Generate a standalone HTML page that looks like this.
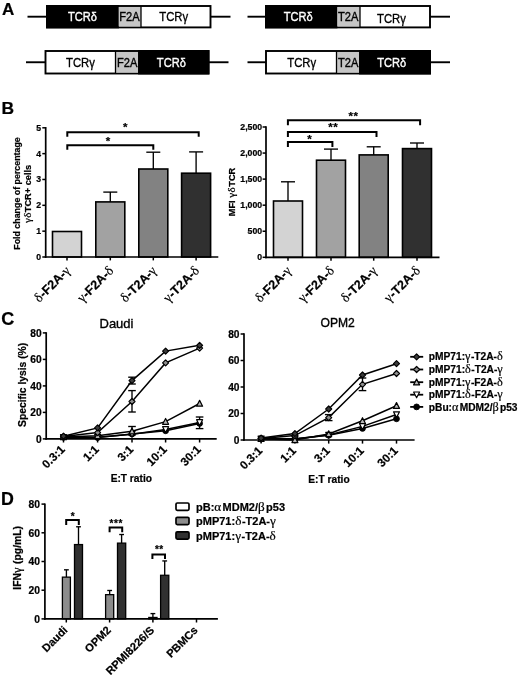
<!DOCTYPE html>
<html lang="en"><head><meta charset="utf-8"><title>Figure</title>
<style>
html,body{margin:0;padding:0;background:#fff;}
svg{display:block;}
text{font-family:"Liberation Sans", sans-serif;}
text[font-weight=bold]{stroke:#000;stroke-width:.22px;}
text[font-weight=bold] tspan{stroke:#000;stroke-width:.2px;}
.gk{font-family:"Liberation Serif", serif;font-weight:normal;font-size:1.2em;letter-spacing:.04em;}
.xl .gk{font-size:1.08em;letter-spacing:.03em;}
.gw{font-family:"Liberation Serif", serif;font-weight:normal;font-size:1.2em;letter-spacing:.1em;}
</style></head>
<body>
<svg width="520" height="675" viewBox="0 0 520 675">
<rect x="0" y="0" width="520" height="675" fill="#fff"/>
<text x="2.00" y="14.90" font-size="17.0" text-anchor="start" font-weight="bold" fill="#000">A</text>
<text x="1.40" y="114.10" font-size="17.4" text-anchor="start" font-weight="bold" fill="#000">B</text>
<text x="1.30" y="324.80" font-size="18.0" text-anchor="start" font-weight="bold" fill="#000">C</text>
<text x="1.10" y="505.00" font-size="17.8" text-anchor="start" font-weight="bold" fill="#000">D</text>
<line x1="27.50" y1="16.70" x2="47.00" y2="16.70" stroke="#000" stroke-width="1.9" stroke-linecap="butt"/>
<line x1="210.50" y1="16.70" x2="230.50" y2="16.70" stroke="#000" stroke-width="1.9" stroke-linecap="butt"/>
<rect x="47.00" y="6.00" width="163.50" height="21.40" fill="#fff" stroke="#000" stroke-width="1.9"/>
<rect x="47.00" y="6.00" width="71.00" height="21.40" fill="#000" stroke="#000" stroke-width="1.9"/>
<text x="82.50" y="21.30" font-size="12" text-anchor="middle" font-weight="normal" fill="#fff" textLength="29" lengthAdjust="spacingAndGlyphs" stroke="#fff" stroke-width=".35">TCRδ</text>
<rect x="118.00" y="7.00" width="23.00" height="19.40" fill="#c6c6c6" stroke="none" stroke-width="0"/>
<line x1="118.00" y1="6.00" x2="118.00" y2="27.40" stroke="#000" stroke-width="1.3" stroke-linecap="butt"/>
<line x1="141.00" y1="6.00" x2="141.00" y2="27.40" stroke="#000" stroke-width="1.3" stroke-linecap="butt"/>
<text x="129.50" y="21.30" font-size="12" text-anchor="middle" font-weight="normal" fill="#000" textLength="20.4" lengthAdjust="spacingAndGlyphs" stroke="#000" stroke-width=".35">F2A</text>
<text x="173.75" y="20.50" font-size="12" text-anchor="middle" font-weight="normal" fill="#000" textLength="29" lengthAdjust="spacingAndGlyphs" stroke="#000" stroke-width=".3">TCRγ</text>
<line x1="26.00" y1="62.25" x2="45.50" y2="62.25" stroke="#000" stroke-width="1.9" stroke-linecap="butt"/>
<line x1="208.50" y1="62.25" x2="228.50" y2="62.25" stroke="#000" stroke-width="1.9" stroke-linecap="butt"/>
<rect x="45.50" y="51.00" width="163.00" height="22.50" fill="#fff" stroke="#000" stroke-width="1.9"/>
<text x="80.50" y="66.85" font-size="12" text-anchor="middle" font-weight="normal" fill="#000" textLength="29" lengthAdjust="spacingAndGlyphs" stroke="#000" stroke-width=".3">TCRγ</text>
<rect x="115.50" y="52.00" width="23.50" height="20.50" fill="#c6c6c6" stroke="none" stroke-width="0"/>
<line x1="115.50" y1="51.00" x2="115.50" y2="73.50" stroke="#000" stroke-width="1.3" stroke-linecap="butt"/>
<line x1="139.00" y1="51.00" x2="139.00" y2="73.50" stroke="#000" stroke-width="1.3" stroke-linecap="butt"/>
<text x="127.25" y="66.85" font-size="12" text-anchor="middle" font-weight="normal" fill="#000" textLength="20.4" lengthAdjust="spacingAndGlyphs" stroke="#000" stroke-width=".35">F2A</text>
<rect x="139.00" y="51.00" width="69.50" height="22.50" fill="#000" stroke="#000" stroke-width="1.9"/>
<text x="171.35" y="66.85" font-size="12" text-anchor="middle" font-weight="normal" fill="#fff" textLength="29" lengthAdjust="spacingAndGlyphs" stroke="#fff" stroke-width=".35">TCRδ</text>
<line x1="247.50" y1="16.70" x2="266.00" y2="16.70" stroke="#000" stroke-width="1.9" stroke-linecap="butt"/>
<line x1="430.00" y1="16.70" x2="450.00" y2="16.70" stroke="#000" stroke-width="1.9" stroke-linecap="butt"/>
<rect x="266.00" y="6.00" width="164.00" height="21.40" fill="#fff" stroke="#000" stroke-width="1.9"/>
<rect x="266.00" y="6.00" width="70.50" height="21.40" fill="#000" stroke="#000" stroke-width="1.9"/>
<text x="298.25" y="21.30" font-size="12" text-anchor="middle" font-weight="normal" fill="#fff" textLength="29" lengthAdjust="spacingAndGlyphs" stroke="#fff" stroke-width=".35">TCRδ</text>
<rect x="336.50" y="7.00" width="23.50" height="19.40" fill="#c6c6c6" stroke="none" stroke-width="0"/>
<line x1="336.50" y1="6.00" x2="336.50" y2="27.40" stroke="#000" stroke-width="1.3" stroke-linecap="butt"/>
<line x1="360.00" y1="6.00" x2="360.00" y2="27.40" stroke="#000" stroke-width="1.3" stroke-linecap="butt"/>
<text x="348.25" y="21.30" font-size="12" text-anchor="middle" font-weight="normal" fill="#000" textLength="20.4" lengthAdjust="spacingAndGlyphs" stroke="#000" stroke-width=".35">T2A</text>
<text x="391.50" y="22.90" font-size="12" text-anchor="middle" font-weight="normal" fill="#000" textLength="29" lengthAdjust="spacingAndGlyphs" stroke="#000" stroke-width=".3">TCRγ</text>
<line x1="247.50" y1="62.25" x2="266.00" y2="62.25" stroke="#000" stroke-width="1.9" stroke-linecap="butt"/>
<line x1="430.00" y1="62.25" x2="450.00" y2="62.25" stroke="#000" stroke-width="1.9" stroke-linecap="butt"/>
<rect x="266.00" y="51.00" width="164.00" height="22.50" fill="#fff" stroke="#000" stroke-width="1.9"/>
<text x="301.75" y="66.85" font-size="12" text-anchor="middle" font-weight="normal" fill="#000" textLength="29" lengthAdjust="spacingAndGlyphs" stroke="#000" stroke-width=".3">TCRγ</text>
<rect x="336.50" y="52.00" width="23.50" height="20.50" fill="#c6c6c6" stroke="none" stroke-width="0"/>
<line x1="336.50" y1="51.00" x2="336.50" y2="73.50" stroke="#000" stroke-width="1.3" stroke-linecap="butt"/>
<line x1="360.00" y1="51.00" x2="360.00" y2="73.50" stroke="#000" stroke-width="1.3" stroke-linecap="butt"/>
<text x="348.25" y="66.85" font-size="12" text-anchor="middle" font-weight="normal" fill="#000" textLength="20.4" lengthAdjust="spacingAndGlyphs" stroke="#000" stroke-width=".35">T2A</text>
<rect x="360.00" y="51.00" width="70.00" height="22.50" fill="#000" stroke="#000" stroke-width="1.9"/>
<text x="391.80" y="66.85" font-size="12" text-anchor="middle" font-weight="normal" fill="#fff" textLength="29" lengthAdjust="spacingAndGlyphs" stroke="#fff" stroke-width=".35">TCRδ</text>
<line x1="42.30" y1="257.00" x2="45.70" y2="257.00" stroke="#000" stroke-width="1.5" stroke-linecap="butt"/>
<text x="41.10" y="260.00" font-size="8.7" text-anchor="end" font-weight="bold" fill="#000">0</text>
<line x1="42.30" y1="231.16" x2="45.70" y2="231.16" stroke="#000" stroke-width="1.5" stroke-linecap="butt"/>
<text x="41.10" y="234.16" font-size="8.7" text-anchor="end" font-weight="bold" fill="#000">1</text>
<line x1="42.30" y1="205.32" x2="45.70" y2="205.32" stroke="#000" stroke-width="1.5" stroke-linecap="butt"/>
<text x="41.10" y="208.32" font-size="8.7" text-anchor="end" font-weight="bold" fill="#000">2</text>
<line x1="42.30" y1="179.48" x2="45.70" y2="179.48" stroke="#000" stroke-width="1.5" stroke-linecap="butt"/>
<text x="41.10" y="182.48" font-size="8.7" text-anchor="end" font-weight="bold" fill="#000">3</text>
<line x1="42.30" y1="153.64" x2="45.70" y2="153.64" stroke="#000" stroke-width="1.5" stroke-linecap="butt"/>
<text x="41.10" y="156.64" font-size="8.7" text-anchor="end" font-weight="bold" fill="#000">4</text>
<line x1="42.30" y1="127.80" x2="45.70" y2="127.80" stroke="#000" stroke-width="1.5" stroke-linecap="butt"/>
<text x="41.10" y="130.80" font-size="8.7" text-anchor="end" font-weight="bold" fill="#000">5</text>
<rect x="52.50" y="231.50" width="29.00" height="25.50" fill="#d3d3d3" stroke="#000" stroke-width="1.6"/>
<line x1="67.00" y1="257.00" x2="67.00" y2="260.40" stroke="#000" stroke-width="1.5" stroke-linecap="butt"/>
<line x1="110.30" y1="201.90" x2="110.30" y2="192.10" stroke="#000" stroke-width="1.35" stroke-linecap="butt"/>
<line x1="103.30" y1="192.10" x2="117.30" y2="192.10" stroke="#000" stroke-width="1.35" stroke-linecap="butt"/>
<rect x="95.80" y="201.90" width="29.00" height="55.10" fill="#a2a2a2" stroke="#000" stroke-width="1.6"/>
<line x1="110.30" y1="257.00" x2="110.30" y2="260.40" stroke="#000" stroke-width="1.5" stroke-linecap="butt"/>
<line x1="153.30" y1="169.00" x2="153.30" y2="152.20" stroke="#000" stroke-width="1.35" stroke-linecap="butt"/>
<line x1="146.30" y1="152.20" x2="160.30" y2="152.20" stroke="#000" stroke-width="1.35" stroke-linecap="butt"/>
<rect x="138.80" y="169.00" width="29.00" height="88.00" fill="#828282" stroke="#000" stroke-width="1.6"/>
<line x1="153.30" y1="257.00" x2="153.30" y2="260.40" stroke="#000" stroke-width="1.5" stroke-linecap="butt"/>
<line x1="196.10" y1="173.20" x2="196.10" y2="151.90" stroke="#000" stroke-width="1.35" stroke-linecap="butt"/>
<line x1="189.10" y1="151.90" x2="203.10" y2="151.90" stroke="#000" stroke-width="1.35" stroke-linecap="butt"/>
<rect x="181.60" y="173.20" width="29.00" height="83.80" fill="#303030" stroke="#000" stroke-width="1.6"/>
<line x1="196.10" y1="257.00" x2="196.10" y2="260.40" stroke="#000" stroke-width="1.5" stroke-linecap="butt"/>
<line x1="45.70" y1="127.05" x2="45.70" y2="257.85" stroke="#000" stroke-width="1.7" stroke-linecap="butt"/>
<line x1="44.85" y1="257.00" x2="218.30" y2="257.00" stroke="#000" stroke-width="1.7" stroke-linecap="butt"/>
<path d="M67.30 136.80 V132.20 H198.70 V136.80" fill="none" stroke="#000" stroke-width="2.0"/>
<path d="M67.30 149.70 V145.30 H153.30 V149.70" fill="none" stroke="#000" stroke-width="2.0"/>
<text x="125.60" y="131.30" font-size="11.5" text-anchor="middle" font-weight="bold" fill="#000" letter-spacing=".5">*</text>
<text x="108.30" y="145.40" font-size="11.5" text-anchor="middle" font-weight="bold" fill="#000" letter-spacing=".5">*</text>
<text x="20.40" y="193.50" font-size="8.85" text-anchor="middle" font-weight="bold" fill="#000" transform="rotate(-90 20.40 193.50)">Fold change of percentage</text>
<text x="31.40" y="194.00" font-size="9.2" text-anchor="middle" font-weight="bold" fill="#000" transform="rotate(-90 31.40 194.00)"><tspan class="gk">γδ</tspan>TCR+ cells</text>
<text x="71.20" y="271.20" font-size="12.5" text-anchor="end" font-weight="bold" fill="#000" transform="rotate(-45 71.20 271.20)" class="xl"><tspan class="gk">δ</tspan>-F2A-<tspan class="gk">γ</tspan></text>
<text x="114.50" y="271.20" font-size="12.5" text-anchor="end" font-weight="bold" fill="#000" transform="rotate(-45 114.50 271.20)" class="xl"><tspan class="gk">γ</tspan>-F2A-<tspan class="gk">δ</tspan></text>
<text x="157.50" y="271.20" font-size="12.5" text-anchor="end" font-weight="bold" fill="#000" transform="rotate(-45 157.50 271.20)" class="xl"><tspan class="gk">δ</tspan>-T2A-<tspan class="gk">γ</tspan></text>
<text x="200.30" y="271.20" font-size="12.5" text-anchor="end" font-weight="bold" fill="#000" transform="rotate(-45 200.30 271.20)" class="xl"><tspan class="gk">γ</tspan>-T2A-<tspan class="gk">δ</tspan></text>
<line x1="262.60" y1="257.30" x2="266.00" y2="257.30" stroke="#000" stroke-width="1.5" stroke-linecap="butt"/>
<text x="262.10" y="260.30" font-size="8.7" text-anchor="end" font-weight="bold" fill="#000">0</text>
<line x1="262.60" y1="231.24" x2="266.00" y2="231.24" stroke="#000" stroke-width="1.5" stroke-linecap="butt"/>
<text x="262.10" y="234.24" font-size="8.7" text-anchor="end" font-weight="bold" fill="#000">500</text>
<line x1="262.60" y1="205.18" x2="266.00" y2="205.18" stroke="#000" stroke-width="1.5" stroke-linecap="butt"/>
<text x="262.10" y="208.18" font-size="8.7" text-anchor="end" font-weight="bold" fill="#000">1,000</text>
<line x1="262.60" y1="179.12" x2="266.00" y2="179.12" stroke="#000" stroke-width="1.5" stroke-linecap="butt"/>
<text x="262.10" y="182.12" font-size="8.7" text-anchor="end" font-weight="bold" fill="#000">1,500</text>
<line x1="262.60" y1="153.06" x2="266.00" y2="153.06" stroke="#000" stroke-width="1.5" stroke-linecap="butt"/>
<text x="262.10" y="156.06" font-size="8.7" text-anchor="end" font-weight="bold" fill="#000">2,000</text>
<line x1="262.60" y1="127.00" x2="266.00" y2="127.00" stroke="#000" stroke-width="1.5" stroke-linecap="butt"/>
<text x="262.10" y="130.00" font-size="8.7" text-anchor="end" font-weight="bold" fill="#000">2,500</text>
<line x1="288.00" y1="201.00" x2="288.00" y2="181.80" stroke="#000" stroke-width="1.35" stroke-linecap="butt"/>
<line x1="281.00" y1="181.80" x2="295.00" y2="181.80" stroke="#000" stroke-width="1.35" stroke-linecap="butt"/>
<rect x="273.50" y="201.00" width="29.00" height="56.30" fill="#d3d3d3" stroke="#000" stroke-width="1.6"/>
<line x1="288.00" y1="257.30" x2="288.00" y2="260.70" stroke="#000" stroke-width="1.5" stroke-linecap="butt"/>
<line x1="331.00" y1="160.20" x2="331.00" y2="149.10" stroke="#000" stroke-width="1.35" stroke-linecap="butt"/>
<line x1="324.00" y1="149.10" x2="338.00" y2="149.10" stroke="#000" stroke-width="1.35" stroke-linecap="butt"/>
<rect x="316.50" y="160.20" width="29.00" height="97.10" fill="#a2a2a2" stroke="#000" stroke-width="1.6"/>
<line x1="331.00" y1="257.30" x2="331.00" y2="260.70" stroke="#000" stroke-width="1.5" stroke-linecap="butt"/>
<line x1="373.70" y1="154.90" x2="373.70" y2="146.80" stroke="#000" stroke-width="1.35" stroke-linecap="butt"/>
<line x1="366.70" y1="146.80" x2="380.70" y2="146.80" stroke="#000" stroke-width="1.35" stroke-linecap="butt"/>
<rect x="359.20" y="154.90" width="29.00" height="102.40" fill="#828282" stroke="#000" stroke-width="1.6"/>
<line x1="373.70" y1="257.30" x2="373.70" y2="260.70" stroke="#000" stroke-width="1.5" stroke-linecap="butt"/>
<line x1="417.00" y1="148.60" x2="417.00" y2="143.00" stroke="#000" stroke-width="1.35" stroke-linecap="butt"/>
<line x1="410.00" y1="143.00" x2="424.00" y2="143.00" stroke="#000" stroke-width="1.35" stroke-linecap="butt"/>
<rect x="402.50" y="148.60" width="29.00" height="108.70" fill="#303030" stroke="#000" stroke-width="1.6"/>
<line x1="417.00" y1="257.30" x2="417.00" y2="260.70" stroke="#000" stroke-width="1.5" stroke-linecap="butt"/>
<line x1="266.00" y1="126.25" x2="266.00" y2="258.15" stroke="#000" stroke-width="1.7" stroke-linecap="butt"/>
<line x1="265.15" y1="257.30" x2="439.50" y2="257.30" stroke="#000" stroke-width="1.7" stroke-linecap="butt"/>
<path d="M287.90 125.30 V120.30 H420.10 V125.30" fill="none" stroke="#000" stroke-width="2.0"/>
<path d="M287.90 137.10 V131.90 H376.50 V137.10" fill="none" stroke="#000" stroke-width="2.0"/>
<path d="M287.90 147.00 V142.00 H332.40 V147.00" fill="none" stroke="#000" stroke-width="2.0"/>
<text x="353.60" y="119.50" font-size="11.5" text-anchor="middle" font-weight="bold" fill="#000" letter-spacing=".5">**</text>
<text x="333.30" y="130.80" font-size="11.5" text-anchor="middle" font-weight="bold" fill="#000" letter-spacing=".5">**</text>
<text x="309.80" y="142.60" font-size="11.5" text-anchor="middle" font-weight="bold" fill="#000" letter-spacing=".5">*</text>
<text x="235.30" y="192.00" font-size="9.25" text-anchor="middle" font-weight="bold" fill="#000" transform="rotate(-90 235.30 192.00)">MFI <tspan class="gk">γδ</tspan>TCR</text>
<text x="292.20" y="271.20" font-size="12.5" text-anchor="end" font-weight="bold" fill="#000" transform="rotate(-45 292.20 271.20)" class="xl"><tspan class="gk">δ</tspan>-F2A-<tspan class="gk">γ</tspan></text>
<text x="335.20" y="271.20" font-size="12.5" text-anchor="end" font-weight="bold" fill="#000" transform="rotate(-45 335.20 271.20)" class="xl"><tspan class="gk">γ</tspan>-F2A-<tspan class="gk">δ</tspan></text>
<text x="377.90" y="271.20" font-size="12.5" text-anchor="end" font-weight="bold" fill="#000" transform="rotate(-45 377.90 271.20)" class="xl"><tspan class="gk">δ</tspan>-T2A-<tspan class="gk">γ</tspan></text>
<text x="421.20" y="271.20" font-size="12.5" text-anchor="end" font-weight="bold" fill="#000" transform="rotate(-45 421.20 271.20)" class="xl"><tspan class="gk">γ</tspan>-T2A-<tspan class="gk">δ</tspan></text>
<line x1="42.80" y1="438.90" x2="46.20" y2="438.90" stroke="#000" stroke-width="1.5" stroke-linecap="butt"/>
<text x="41.70" y="442.60" font-size="10.2" text-anchor="end" font-weight="bold" fill="#000">0</text>
<line x1="42.80" y1="412.40" x2="46.20" y2="412.40" stroke="#000" stroke-width="1.5" stroke-linecap="butt"/>
<text x="41.70" y="416.10" font-size="10.2" text-anchor="end" font-weight="bold" fill="#000">20</text>
<line x1="42.80" y1="385.90" x2="46.20" y2="385.90" stroke="#000" stroke-width="1.5" stroke-linecap="butt"/>
<text x="41.70" y="389.60" font-size="10.2" text-anchor="end" font-weight="bold" fill="#000">40</text>
<line x1="42.80" y1="359.40" x2="46.20" y2="359.40" stroke="#000" stroke-width="1.5" stroke-linecap="butt"/>
<text x="41.70" y="363.10" font-size="10.2" text-anchor="end" font-weight="bold" fill="#000">60</text>
<line x1="42.80" y1="332.90" x2="46.20" y2="332.90" stroke="#000" stroke-width="1.5" stroke-linecap="butt"/>
<text x="41.70" y="336.60" font-size="10.2" text-anchor="end" font-weight="bold" fill="#000">80</text>
<line x1="46.20" y1="332.20" x2="46.20" y2="439.75" stroke="#000" stroke-width="1.7" stroke-linecap="butt"/>
<line x1="45.35" y1="438.90" x2="216.70" y2="438.90" stroke="#000" stroke-width="1.7" stroke-linecap="butt"/>
<line x1="63.50" y1="438.90" x2="63.50" y2="442.50" stroke="#000" stroke-width="1.5" stroke-linecap="butt"/>
<line x1="97.60" y1="438.90" x2="97.60" y2="442.50" stroke="#000" stroke-width="1.5" stroke-linecap="butt"/>
<line x1="132.00" y1="438.90" x2="132.00" y2="442.50" stroke="#000" stroke-width="1.5" stroke-linecap="butt"/>
<line x1="165.60" y1="438.90" x2="165.60" y2="442.50" stroke="#000" stroke-width="1.5" stroke-linecap="butt"/>
<line x1="199.60" y1="438.90" x2="199.60" y2="442.50" stroke="#000" stroke-width="1.5" stroke-linecap="butt"/>
<line x1="132.00" y1="390.60" x2="132.00" y2="412.00" stroke="#000" stroke-width="1.35" stroke-linecap="butt"/>
<line x1="128.20" y1="390.60" x2="135.80" y2="390.60" stroke="#000" stroke-width="1.35" stroke-linecap="butt"/>
<line x1="128.20" y1="412.00" x2="135.80" y2="412.00" stroke="#000" stroke-width="1.35" stroke-linecap="butt"/>
<line x1="132.00" y1="377.20" x2="132.00" y2="384.00" stroke="#000" stroke-width="1.35" stroke-linecap="butt"/>
<line x1="128.20" y1="377.20" x2="135.80" y2="377.20" stroke="#000" stroke-width="1.35" stroke-linecap="butt"/>
<line x1="128.20" y1="384.00" x2="135.80" y2="384.00" stroke="#000" stroke-width="1.35" stroke-linecap="butt"/>
<line x1="132.00" y1="426.50" x2="132.00" y2="435.00" stroke="#000" stroke-width="1.35" stroke-linecap="butt"/>
<line x1="128.20" y1="426.50" x2="135.80" y2="426.50" stroke="#000" stroke-width="1.35" stroke-linecap="butt"/>
<line x1="128.20" y1="435.00" x2="135.80" y2="435.00" stroke="#000" stroke-width="1.35" stroke-linecap="butt"/>
<line x1="199.60" y1="417.00" x2="199.60" y2="428.60" stroke="#000" stroke-width="1.35" stroke-linecap="butt"/>
<line x1="195.80" y1="417.00" x2="203.40" y2="417.00" stroke="#000" stroke-width="1.35" stroke-linecap="butt"/>
<line x1="195.80" y1="428.60" x2="203.40" y2="428.60" stroke="#000" stroke-width="1.35" stroke-linecap="butt"/>
<polyline points="63.50,437.20 97.60,437.60 132.00,434.00 165.60,430.80 199.60,423.40" fill="none" stroke="#000" stroke-width="1.5"/>
<polyline points="63.50,437.40 97.60,437.20 132.00,434.20 165.60,429.40 199.60,422.40" fill="none" stroke="#000" stroke-width="1.5"/>
<polyline points="63.50,437.00 97.60,435.80 132.00,431.20 165.60,421.60 199.60,403.50" fill="none" stroke="#000" stroke-width="1.5"/>
<polyline points="63.50,436.60 97.60,432.60 132.00,401.50 165.60,362.90 199.60,348.10" fill="none" stroke="#000" stroke-width="1.5"/>
<polyline points="63.50,436.20 97.60,427.90 132.00,380.60 165.60,351.10 199.60,345.30" fill="none" stroke="#000" stroke-width="1.5"/>
<circle cx="63.50" cy="437.20" r="2.9" fill="#000" stroke="#000" stroke-width="0.9"/>
<circle cx="97.60" cy="437.60" r="2.9" fill="#000" stroke="#000" stroke-width="0.9"/>
<circle cx="132.00" cy="434.00" r="2.9" fill="#000" stroke="#000" stroke-width="0.9"/>
<circle cx="165.60" cy="430.80" r="2.9" fill="#000" stroke="#000" stroke-width="0.9"/>
<circle cx="199.60" cy="423.40" r="2.9" fill="#000" stroke="#000" stroke-width="0.9"/>
<path d="M60.50 434.70 L63.50 440.50 L66.50 434.70 Z" fill="#fff" stroke="#000" stroke-width="1.2" stroke-linejoin="round"/>
<path d="M94.60 434.50 L97.60 440.30 L100.60 434.50 Z" fill="#fff" stroke="#000" stroke-width="1.2" stroke-linejoin="round"/>
<path d="M129.00 431.50 L132.00 437.30 L135.00 431.50 Z" fill="#fff" stroke="#000" stroke-width="1.2" stroke-linejoin="round"/>
<path d="M162.60 426.70 L165.60 432.50 L168.60 426.70 Z" fill="#fff" stroke="#000" stroke-width="1.2" stroke-linejoin="round"/>
<path d="M196.60 419.70 L199.60 425.50 L202.60 419.70 Z" fill="#fff" stroke="#000" stroke-width="1.2" stroke-linejoin="round"/>
<path d="M60.50 439.70 L63.50 433.90 L66.50 439.70 Z" fill="#b8b8b8" stroke="#000" stroke-width="1.2" stroke-linejoin="round"/>
<path d="M94.60 438.50 L97.60 432.70 L100.60 438.50 Z" fill="#b8b8b8" stroke="#000" stroke-width="1.2" stroke-linejoin="round"/>
<path d="M129.00 433.90 L132.00 428.10 L135.00 433.90 Z" fill="#b8b8b8" stroke="#000" stroke-width="1.2" stroke-linejoin="round"/>
<path d="M162.60 424.30 L165.60 418.50 L168.60 424.30 Z" fill="#b8b8b8" stroke="#000" stroke-width="1.2" stroke-linejoin="round"/>
<path d="M196.60 406.20 L199.60 400.40 L202.60 406.20 Z" fill="#b8b8b8" stroke="#000" stroke-width="1.2" stroke-linejoin="round"/>
<path d="M60.50 436.60 L63.50 433.60 L66.50 436.60 L63.50 439.60 Z" fill="#909090" stroke="#000" stroke-width="1.2" stroke-linejoin="round"/>
<path d="M94.60 432.60 L97.60 429.60 L100.60 432.60 L97.60 435.60 Z" fill="#909090" stroke="#000" stroke-width="1.2" stroke-linejoin="round"/>
<path d="M129.00 401.50 L132.00 398.50 L135.00 401.50 L132.00 404.50 Z" fill="#909090" stroke="#000" stroke-width="1.2" stroke-linejoin="round"/>
<path d="M162.60 362.90 L165.60 359.90 L168.60 362.90 L165.60 365.90 Z" fill="#909090" stroke="#000" stroke-width="1.2" stroke-linejoin="round"/>
<path d="M196.60 348.10 L199.60 345.10 L202.60 348.10 L199.60 351.10 Z" fill="#909090" stroke="#000" stroke-width="1.2" stroke-linejoin="round"/>
<path d="M60.50 436.20 L63.50 433.20 L66.50 436.20 L63.50 439.20 Z" fill="#3a3a3a" stroke="#000" stroke-width="1.2" stroke-linejoin="round"/>
<path d="M94.60 427.90 L97.60 424.90 L100.60 427.90 L97.60 430.90 Z" fill="#3a3a3a" stroke="#000" stroke-width="1.2" stroke-linejoin="round"/>
<path d="M129.00 380.60 L132.00 377.60 L135.00 380.60 L132.00 383.60 Z" fill="#3a3a3a" stroke="#000" stroke-width="1.2" stroke-linejoin="round"/>
<path d="M162.60 351.10 L165.60 348.10 L168.60 351.10 L165.60 354.10 Z" fill="#3a3a3a" stroke="#000" stroke-width="1.2" stroke-linejoin="round"/>
<path d="M196.60 345.30 L199.60 342.30 L202.60 345.30 L199.60 348.30 Z" fill="#3a3a3a" stroke="#000" stroke-width="1.2" stroke-linejoin="round"/>
<text x="65.50" y="450.25" font-size="11.6" text-anchor="end" font-weight="bold" fill="#000" transform="rotate(-45 65.50 450.25)">0.3:1</text>
<text x="99.60" y="450.25" font-size="11.6" text-anchor="end" font-weight="bold" fill="#000" transform="rotate(-45 99.60 450.25)">1:1</text>
<text x="134.00" y="450.25" font-size="11.6" text-anchor="end" font-weight="bold" fill="#000" transform="rotate(-45 134.00 450.25)">3:1</text>
<text x="167.60" y="450.25" font-size="11.6" text-anchor="end" font-weight="bold" fill="#000" transform="rotate(-45 167.60 450.25)">10:1</text>
<text x="201.60" y="450.25" font-size="11.6" text-anchor="end" font-weight="bold" fill="#000" transform="rotate(-45 201.60 450.25)">30:1</text>
<text x="99.50" y="328.10" font-size="13" text-anchor="start" font-weight="normal" fill="#000" stroke="#000" stroke-width=".35">Daudi</text>
<text x="26.10" y="384.90" font-size="10.3" text-anchor="middle" font-weight="bold" fill="#000" transform="rotate(-90 26.10 384.90)">Specific lysis (%)</text>
<text x="131.30" y="482.00" font-size="10.2" text-anchor="middle" font-weight="bold" fill="#000">E:T ratio</text>
<line x1="240.60" y1="440.00" x2="244.00" y2="440.00" stroke="#000" stroke-width="1.5" stroke-linecap="butt"/>
<text x="239.50" y="443.70" font-size="10.2" text-anchor="end" font-weight="bold" fill="#000">0</text>
<line x1="240.60" y1="413.50" x2="244.00" y2="413.50" stroke="#000" stroke-width="1.5" stroke-linecap="butt"/>
<text x="239.50" y="417.20" font-size="10.2" text-anchor="end" font-weight="bold" fill="#000">20</text>
<line x1="240.60" y1="387.00" x2="244.00" y2="387.00" stroke="#000" stroke-width="1.5" stroke-linecap="butt"/>
<text x="239.50" y="390.70" font-size="10.2" text-anchor="end" font-weight="bold" fill="#000">40</text>
<line x1="240.60" y1="360.50" x2="244.00" y2="360.50" stroke="#000" stroke-width="1.5" stroke-linecap="butt"/>
<text x="239.50" y="364.20" font-size="10.2" text-anchor="end" font-weight="bold" fill="#000">60</text>
<line x1="240.60" y1="334.00" x2="244.00" y2="334.00" stroke="#000" stroke-width="1.5" stroke-linecap="butt"/>
<text x="239.50" y="337.70" font-size="10.2" text-anchor="end" font-weight="bold" fill="#000">80</text>
<line x1="244.00" y1="333.30" x2="244.00" y2="440.85" stroke="#000" stroke-width="1.7" stroke-linecap="butt"/>
<line x1="243.15" y1="440.00" x2="414.60" y2="440.00" stroke="#000" stroke-width="1.7" stroke-linecap="butt"/>
<line x1="261.10" y1="440.00" x2="261.10" y2="443.60" stroke="#000" stroke-width="1.5" stroke-linecap="butt"/>
<line x1="294.90" y1="440.00" x2="294.90" y2="443.60" stroke="#000" stroke-width="1.5" stroke-linecap="butt"/>
<line x1="328.70" y1="440.00" x2="328.70" y2="443.60" stroke="#000" stroke-width="1.5" stroke-linecap="butt"/>
<line x1="362.50" y1="440.00" x2="362.50" y2="443.60" stroke="#000" stroke-width="1.5" stroke-linecap="butt"/>
<line x1="396.50" y1="440.00" x2="396.50" y2="443.60" stroke="#000" stroke-width="1.5" stroke-linecap="butt"/>
<line x1="362.50" y1="378.00" x2="362.50" y2="390.60" stroke="#000" stroke-width="1.35" stroke-linecap="butt"/>
<line x1="358.70" y1="378.00" x2="366.30" y2="378.00" stroke="#000" stroke-width="1.35" stroke-linecap="butt"/>
<line x1="358.70" y1="390.60" x2="366.30" y2="390.60" stroke="#000" stroke-width="1.35" stroke-linecap="butt"/>
<line x1="328.70" y1="414.60" x2="328.70" y2="420.60" stroke="#000" stroke-width="1.35" stroke-linecap="butt"/>
<line x1="324.90" y1="414.60" x2="332.50" y2="414.60" stroke="#000" stroke-width="1.35" stroke-linecap="butt"/>
<line x1="324.90" y1="420.60" x2="332.50" y2="420.60" stroke="#000" stroke-width="1.35" stroke-linecap="butt"/>
<polyline points="261.10,438.60 294.90,438.80 328.70,435.30 362.50,428.40 396.50,418.80" fill="none" stroke="#000" stroke-width="1.5"/>
<polyline points="261.10,438.80 294.90,438.90 328.70,435.00 362.50,426.40 396.50,414.50" fill="none" stroke="#000" stroke-width="1.5"/>
<polyline points="261.10,438.70 294.90,439.90 328.70,434.00 362.50,420.80 396.50,405.70" fill="none" stroke="#000" stroke-width="1.5"/>
<polyline points="261.10,438.40 294.90,435.60 328.70,417.60 362.50,384.30 396.50,373.50" fill="none" stroke="#000" stroke-width="1.5"/>
<polyline points="261.10,438.10 294.90,433.60 328.70,409.00 362.50,375.00 396.50,363.70" fill="none" stroke="#000" stroke-width="1.5"/>
<circle cx="261.10" cy="438.60" r="2.9" fill="#000" stroke="#000" stroke-width="0.9"/>
<circle cx="294.90" cy="438.80" r="2.9" fill="#000" stroke="#000" stroke-width="0.9"/>
<circle cx="328.70" cy="435.30" r="2.9" fill="#000" stroke="#000" stroke-width="0.9"/>
<circle cx="362.50" cy="428.40" r="2.9" fill="#000" stroke="#000" stroke-width="0.9"/>
<circle cx="396.50" cy="418.80" r="2.9" fill="#000" stroke="#000" stroke-width="0.9"/>
<path d="M258.10 436.10 L261.10 441.90 L264.10 436.10 Z" fill="#fff" stroke="#000" stroke-width="1.2" stroke-linejoin="round"/>
<path d="M291.90 436.20 L294.90 442.00 L297.90 436.20 Z" fill="#fff" stroke="#000" stroke-width="1.2" stroke-linejoin="round"/>
<path d="M325.70 432.30 L328.70 438.10 L331.70 432.30 Z" fill="#fff" stroke="#000" stroke-width="1.2" stroke-linejoin="round"/>
<path d="M359.50 423.70 L362.50 429.50 L365.50 423.70 Z" fill="#fff" stroke="#000" stroke-width="1.2" stroke-linejoin="round"/>
<path d="M393.50 411.80 L396.50 417.60 L399.50 411.80 Z" fill="#fff" stroke="#000" stroke-width="1.2" stroke-linejoin="round"/>
<path d="M258.10 441.40 L261.10 435.60 L264.10 441.40 Z" fill="#b8b8b8" stroke="#000" stroke-width="1.2" stroke-linejoin="round"/>
<path d="M291.90 442.60 L294.90 436.80 L297.90 442.60 Z" fill="#b8b8b8" stroke="#000" stroke-width="1.2" stroke-linejoin="round"/>
<path d="M325.70 436.70 L328.70 430.90 L331.70 436.70 Z" fill="#b8b8b8" stroke="#000" stroke-width="1.2" stroke-linejoin="round"/>
<path d="M359.50 423.50 L362.50 417.70 L365.50 423.50 Z" fill="#b8b8b8" stroke="#000" stroke-width="1.2" stroke-linejoin="round"/>
<path d="M393.50 408.40 L396.50 402.60 L399.50 408.40 Z" fill="#b8b8b8" stroke="#000" stroke-width="1.2" stroke-linejoin="round"/>
<path d="M258.10 438.40 L261.10 435.40 L264.10 438.40 L261.10 441.40 Z" fill="#909090" stroke="#000" stroke-width="1.2" stroke-linejoin="round"/>
<path d="M291.90 435.60 L294.90 432.60 L297.90 435.60 L294.90 438.60 Z" fill="#909090" stroke="#000" stroke-width="1.2" stroke-linejoin="round"/>
<path d="M325.70 417.60 L328.70 414.60 L331.70 417.60 L328.70 420.60 Z" fill="#909090" stroke="#000" stroke-width="1.2" stroke-linejoin="round"/>
<path d="M359.50 384.30 L362.50 381.30 L365.50 384.30 L362.50 387.30 Z" fill="#909090" stroke="#000" stroke-width="1.2" stroke-linejoin="round"/>
<path d="M393.50 373.50 L396.50 370.50 L399.50 373.50 L396.50 376.50 Z" fill="#909090" stroke="#000" stroke-width="1.2" stroke-linejoin="round"/>
<path d="M258.10 438.10 L261.10 435.10 L264.10 438.10 L261.10 441.10 Z" fill="#3a3a3a" stroke="#000" stroke-width="1.2" stroke-linejoin="round"/>
<path d="M291.90 433.60 L294.90 430.60 L297.90 433.60 L294.90 436.60 Z" fill="#3a3a3a" stroke="#000" stroke-width="1.2" stroke-linejoin="round"/>
<path d="M325.70 409.00 L328.70 406.00 L331.70 409.00 L328.70 412.00 Z" fill="#3a3a3a" stroke="#000" stroke-width="1.2" stroke-linejoin="round"/>
<path d="M359.50 375.00 L362.50 372.00 L365.50 375.00 L362.50 378.00 Z" fill="#3a3a3a" stroke="#000" stroke-width="1.2" stroke-linejoin="round"/>
<path d="M393.50 363.70 L396.50 360.70 L399.50 363.70 L396.50 366.70 Z" fill="#3a3a3a" stroke="#000" stroke-width="1.2" stroke-linejoin="round"/>
<text x="263.10" y="451.35" font-size="11.6" text-anchor="end" font-weight="bold" fill="#000" transform="rotate(-45 263.10 451.35)">0.3:1</text>
<text x="296.90" y="451.35" font-size="11.6" text-anchor="end" font-weight="bold" fill="#000" transform="rotate(-45 296.90 451.35)">1:1</text>
<text x="330.70" y="451.35" font-size="11.6" text-anchor="end" font-weight="bold" fill="#000" transform="rotate(-45 330.70 451.35)">3:1</text>
<text x="364.50" y="451.35" font-size="11.6" text-anchor="end" font-weight="bold" fill="#000" transform="rotate(-45 364.50 451.35)">10:1</text>
<text x="398.50" y="451.35" font-size="11.6" text-anchor="end" font-weight="bold" fill="#000" transform="rotate(-45 398.50 451.35)">30:1</text>
<text x="320.50" y="326.50" font-size="12.1" text-anchor="start" font-weight="normal" fill="#000" stroke="#000" stroke-width=".35">OPM2</text>
<text x="329.00" y="483.30" font-size="10.2" text-anchor="middle" font-weight="bold" fill="#000">E:T ratio</text>
<line x1="410.20" y1="356.80" x2="423.20" y2="356.80" stroke="#000" stroke-width="1.8" stroke-linecap="butt"/>
<path d="M413.60 356.80 L416.60 353.80 L419.60 356.80 L416.60 359.80 Z" fill="#3a3a3a" stroke="#000" stroke-width="1.2" stroke-linejoin="round"/>
<text x="428.80" y="360.40" font-size="10.2" text-anchor="start" font-weight="bold" fill="#000">pMP71:<tspan class="gk">γ</tspan>-T2A-<tspan class="gk">δ</tspan></text>
<line x1="410.20" y1="369.50" x2="423.20" y2="369.50" stroke="#000" stroke-width="1.8" stroke-linecap="butt"/>
<path d="M413.60 369.50 L416.60 366.50 L419.60 369.50 L416.60 372.50 Z" fill="#909090" stroke="#000" stroke-width="1.2" stroke-linejoin="round"/>
<text x="428.80" y="373.10" font-size="10.2" text-anchor="start" font-weight="bold" fill="#000">pMP71:<tspan class="gk">δ</tspan>-T2A-<tspan class="gk">γ</tspan></text>
<line x1="410.20" y1="382.20" x2="423.20" y2="382.20" stroke="#000" stroke-width="1.8" stroke-linecap="butt"/>
<path d="M413.60 384.90 L416.60 379.10 L419.60 384.90 Z" fill="#b8b8b8" stroke="#000" stroke-width="1.2" stroke-linejoin="round"/>
<text x="428.80" y="385.80" font-size="10.2" text-anchor="start" font-weight="bold" fill="#000">pMP71:<tspan class="gk">γ</tspan>-F2A-<tspan class="gk">δ</tspan></text>
<line x1="410.20" y1="394.70" x2="423.20" y2="394.70" stroke="#000" stroke-width="1.8" stroke-linecap="butt"/>
<path d="M413.60 392.00 L416.60 397.80 L419.60 392.00 Z" fill="#fff" stroke="#000" stroke-width="1.2" stroke-linejoin="round"/>
<text x="428.80" y="398.30" font-size="10.2" text-anchor="start" font-weight="bold" fill="#000">pMP71:<tspan class="gk">δ</tspan>-F2A-<tspan class="gk">γ</tspan></text>
<line x1="410.20" y1="406.90" x2="423.20" y2="406.90" stroke="#000" stroke-width="1.8" stroke-linecap="butt"/>
<circle cx="416.60" cy="406.90" r="2.9" fill="#000" stroke="#000" stroke-width="0.9"/>
<text x="428.80" y="410.50" font-size="10.2" text-anchor="start" font-weight="bold" fill="#000">pBu:<tspan class="gw">α</tspan>MDM2/<tspan class="gw">β</tspan>p53</text>
<line x1="41.50" y1="618.90" x2="44.90" y2="618.90" stroke="#000" stroke-width="1.5" stroke-linecap="butt"/>
<text x="39.90" y="622.70" font-size="10.3" text-anchor="end" font-weight="bold" fill="#000">0</text>
<line x1="41.50" y1="590.20" x2="44.90" y2="590.20" stroke="#000" stroke-width="1.5" stroke-linecap="butt"/>
<text x="39.90" y="594.00" font-size="10.3" text-anchor="end" font-weight="bold" fill="#000">20</text>
<line x1="41.50" y1="561.50" x2="44.90" y2="561.50" stroke="#000" stroke-width="1.5" stroke-linecap="butt"/>
<text x="39.90" y="565.30" font-size="10.3" text-anchor="end" font-weight="bold" fill="#000">40</text>
<line x1="41.50" y1="532.80" x2="44.90" y2="532.80" stroke="#000" stroke-width="1.5" stroke-linecap="butt"/>
<text x="39.90" y="536.60" font-size="10.3" text-anchor="end" font-weight="bold" fill="#000">60</text>
<line x1="41.50" y1="504.10" x2="44.90" y2="504.10" stroke="#000" stroke-width="1.5" stroke-linecap="butt"/>
<text x="39.90" y="507.90" font-size="10.3" text-anchor="end" font-weight="bold" fill="#000">80</text>
<line x1="66.40" y1="577.14" x2="66.40" y2="569.82" stroke="#000" stroke-width="1.35" stroke-linecap="butt"/>
<line x1="64.00" y1="569.82" x2="68.80" y2="569.82" stroke="#000" stroke-width="1.35" stroke-linecap="butt"/>
<rect x="62.40" y="577.14" width="8.00" height="41.76" fill="#8c8c8c" stroke="#000" stroke-width="1.3"/>
<line x1="78.50" y1="544.57" x2="78.50" y2="526.77" stroke="#000" stroke-width="1.35" stroke-linecap="butt"/>
<line x1="76.10" y1="526.77" x2="80.90" y2="526.77" stroke="#000" stroke-width="1.35" stroke-linecap="butt"/>
<rect x="74.50" y="544.57" width="8.00" height="74.33" fill="#303030" stroke="#000" stroke-width="1.3"/>
<line x1="109.65" y1="594.65" x2="109.65" y2="590.49" stroke="#000" stroke-width="1.35" stroke-linecap="butt"/>
<line x1="107.25" y1="590.49" x2="112.05" y2="590.49" stroke="#000" stroke-width="1.35" stroke-linecap="butt"/>
<rect x="105.60" y="594.65" width="8.10" height="24.25" fill="#8c8c8c" stroke="#000" stroke-width="1.3"/>
<line x1="121.60" y1="543.13" x2="121.60" y2="534.52" stroke="#000" stroke-width="1.35" stroke-linecap="butt"/>
<line x1="119.20" y1="534.52" x2="124.00" y2="534.52" stroke="#000" stroke-width="1.35" stroke-linecap="butt"/>
<rect x="117.50" y="543.13" width="8.20" height="75.77" fill="#303030" stroke="#000" stroke-width="1.3"/>
<line x1="152.90" y1="617.47" x2="152.90" y2="613.59" stroke="#000" stroke-width="1.35" stroke-linecap="butt"/>
<line x1="150.50" y1="613.59" x2="155.30" y2="613.59" stroke="#000" stroke-width="1.35" stroke-linecap="butt"/>
<rect x="148.80" y="617.47" width="8.20" height="1.43" fill="#8c8c8c" stroke="#000" stroke-width="1.3"/>
<line x1="164.70" y1="575.28" x2="164.70" y2="560.93" stroke="#000" stroke-width="1.35" stroke-linecap="butt"/>
<line x1="162.30" y1="560.93" x2="167.10" y2="560.93" stroke="#000" stroke-width="1.35" stroke-linecap="butt"/>
<rect x="160.60" y="575.28" width="8.20" height="43.62" fill="#303030" stroke="#000" stroke-width="1.3"/>
<line x1="44.90" y1="503.40" x2="44.90" y2="619.75" stroke="#000" stroke-width="1.7" stroke-linecap="butt"/>
<line x1="44.05" y1="618.90" x2="217.90" y2="618.90" stroke="#000" stroke-width="1.7" stroke-linecap="butt"/>
<line x1="66.30" y1="618.90" x2="66.30" y2="622.50" stroke="#000" stroke-width="1.5" stroke-linecap="butt"/>
<text x="68.30" y="630.90" font-size="11.1" text-anchor="end" font-weight="bold" fill="#000" transform="rotate(-45 68.30 630.90)">Daudi</text>
<line x1="109.60" y1="618.90" x2="109.60" y2="622.50" stroke="#000" stroke-width="1.5" stroke-linecap="butt"/>
<text x="111.60" y="630.90" font-size="11.1" text-anchor="end" font-weight="bold" fill="#000" transform="rotate(-45 111.60 630.90)">OPM2</text>
<line x1="152.90" y1="618.90" x2="152.90" y2="622.50" stroke="#000" stroke-width="1.5" stroke-linecap="butt"/>
<text x="154.90" y="630.90" font-size="11.1" text-anchor="end" font-weight="bold" fill="#000" transform="rotate(-45 154.90 630.90)">RPMI8226/S</text>
<line x1="196.50" y1="618.90" x2="196.50" y2="622.50" stroke="#000" stroke-width="1.5" stroke-linecap="butt"/>
<text x="198.50" y="630.90" font-size="11.1" text-anchor="end" font-weight="bold" fill="#000" transform="rotate(-45 198.50 630.90)">PBMCs</text>
<path d="M66.20 525.00 V520.00 H78.80 V525.00" fill="none" stroke="#000" stroke-width="2.0"/>
<path d="M109.60 532.30 V527.50 H122.20 V532.30" fill="none" stroke="#000" stroke-width="2.0"/>
<path d="M152.40 559.10 V554.50 H165.00 V559.10" fill="none" stroke="#000" stroke-width="2.0"/>
<text x="73.00" y="520.20" font-size="10" text-anchor="middle" font-weight="bold" fill="#000" letter-spacing=".5">*</text>
<text x="116.20" y="527.20" font-size="10" text-anchor="middle" font-weight="bold" fill="#000" letter-spacing=".5">***</text>
<text x="159.30" y="553.40" font-size="10" text-anchor="middle" font-weight="bold" fill="#000" letter-spacing=".5">**</text>
<text x="20.80" y="557.80" font-size="10.4" text-anchor="middle" font-weight="bold" fill="#000" transform="rotate(-90 20.80 557.80)">IFN<tspan class="gk">γ</tspan> (pg/mL)</text>
<rect x="176.0" y="503.0" width="13.0" height="7.30" rx="1.3" fill="#fff" stroke="#000" stroke-width="1.7"/>
<text x="196.00" y="510.95" font-size="11" text-anchor="start" font-weight="bold" fill="#000">pB:<tspan class="gw">α</tspan>MDM2/<tspan class="gw">β</tspan>p53</text>
<rect x="176.0" y="517.3" width="13.0" height="7.30" rx="1.3" fill="#8c8c8c" stroke="#000" stroke-width="1.7"/>
<text x="196.00" y="525.25" font-size="11" text-anchor="start" font-weight="bold" fill="#000">pMP71:<tspan class="gk">δ</tspan>-T2A-<tspan class="gk">γ</tspan></text>
<rect x="176.0" y="531.8" width="13.0" height="7.30" rx="1.3" fill="#303030" stroke="#000" stroke-width="1.7"/>
<text x="196.00" y="539.75" font-size="11" text-anchor="start" font-weight="bold" fill="#000">pMP71:<tspan class="gk">γ</tspan>-T2A-<tspan class="gk">δ</tspan></text>
</svg>
</body></html>
